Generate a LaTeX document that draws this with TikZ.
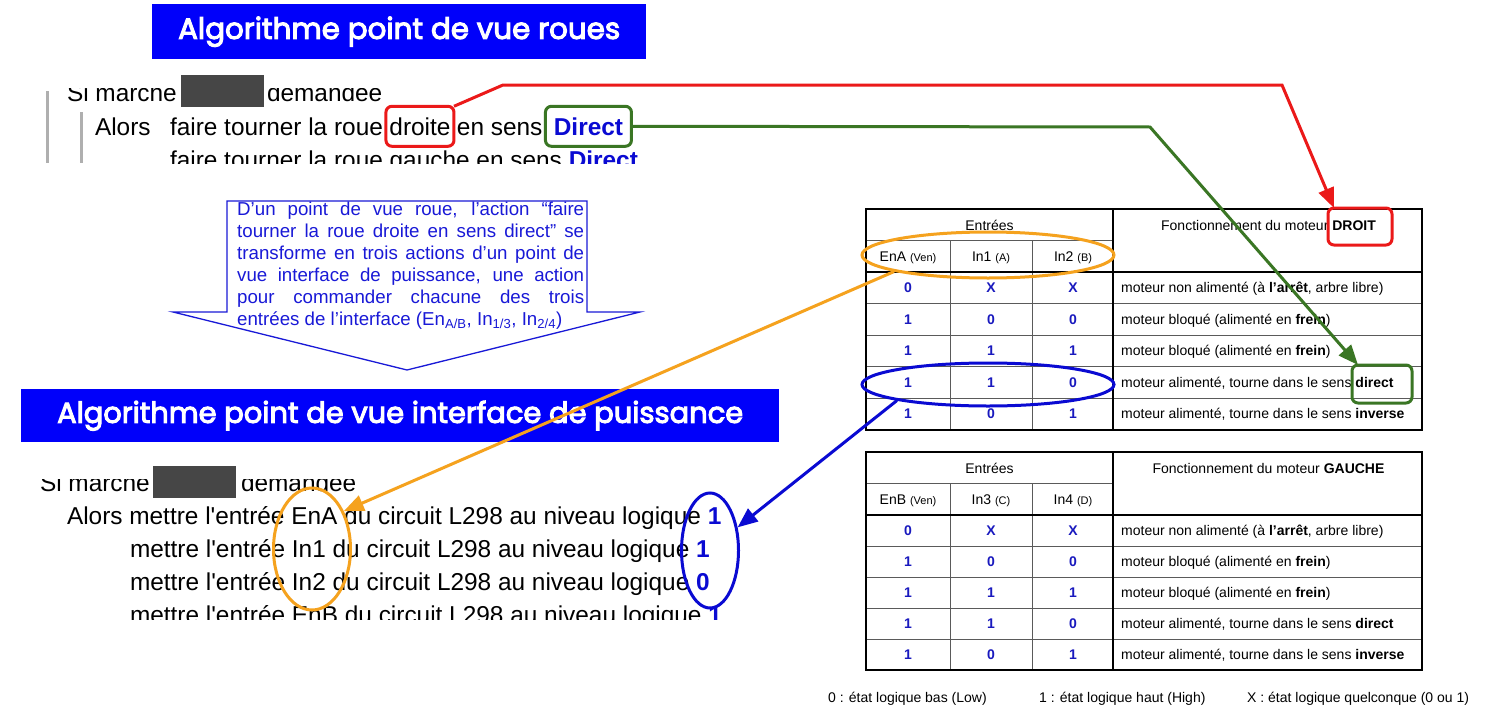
\documentclass[tikz,border=0pt]{standalone}
\usepackage{fontspec}
\usepackage{graphicx}
\newfontfamily\arial{Liberation Sans}
\newfontfamily\titlefont{Poppins}[FakeBold=3.5]
\usetikzlibrary{arrows.meta,shapes.geometric}
\definecolor{tblue}{RGB}{0,0,250}
\definecolor{nblue}{RGB}{25,25,190}
\definecolor{cblue}{RGB}{25,25,215}
\definecolor{cred}{RGB}{235,25,25}
\definecolor{cgreen}{RGB}{58,118,36}
\definecolor{corange}{RGB}{245,162,30}
\definecolor{vblue}{RGB}{10,10,210}
\definecolor{darkbox}{RGB}{70,70,70}
\definecolor{barcol}{RGB}{175,175,175}
\definecolor{gridcol}{RGB}{90,90,90}
\tikzset{
  txt/.style={font=\arial\fontsize{24.4}{28}\selectfont, inner sep=0pt, outer sep=0pt, anchor=base west},
  ttl/.style={fill=tblue, inner sep=0pt, text=white, anchor=north west},
  hlbox/.style={rounded corners=6pt, line width=3pt, inner xsep=3.5pt, inner ysep=0pt, minimum height=40pt, outer sep=0pt, anchor=base west},
  tb/.style={font=\arial\fontsize{14}{16}\selectfont, inner sep=0pt, anchor=base},
  num/.style={font=\arial\bfseries\fontsize{14}{16}\selectfont, text=nblue, inner sep=0pt, anchor=base},
  tframe/.style={line width=2pt, black},
  tthin/.style={line width=1pt, gridcol},
  conn/.style={line width=3pt, -{Triangle[length=20pt,width=16pt]}},
  oval/.style={ellipse, draw, line width=3pt, inner sep=0pt},
}
\newcommand\smallp[1]{{\fontsize{11}{13}\selectfont #1}}
\newcommand\mytable[7]{%
  \pgfmathsetmacro\myhA{#2+31}%
  \pgfmathsetmacro\myhB{#2+63}%
  \pgfmathsetmacro\myrh{(#3-\myhB)/5}%
  \foreach \k in {1,...,4}{\draw[tthin] (866,{\myhB+\k*\myrh}) -- (1422,{\myhB+\k*\myrh});}
  \draw[tthin] (866,\myhA) -- (1113,\myhA);
  \draw[tthin] (950,\myhA) -- (950,#3);
  \draw[tthin] (1032,\myhA) -- (1032,#3);
  \draw[tframe] (1113,#2) -- (1113,#3);
  \draw[tframe] (866,\myhB) -- (1422,\myhB);
  \draw[tframe] (866,#2) rectangle (1422,#3);
  \node[tb] (#1ent) at (989.5,{#2+21}) {Entrées};
  \node[tb] (#1fon) at (1268.5,{#2+21}) {#7};
  \node[tb] (#1s1) at (908,{(\myhA+\myhB)/2+5}) {#4};
  \node[tb] (#1s2) at (991,{(\myhA+\myhB)/2+5}) {#5};
  \node[tb] (#1s3) at (1073,{(\myhA+\myhB)/2+5}) {#6};
  \foreach \va/\vb/\vc/\vd [count=\i] in {0/X/X/{moteur non alimenté (à \textbf{l’arrêt}, arbre libre)},
      1/0/0/{moteur bloqué (alimenté en \textbf{frein})},
      1/1/1/{moteur bloqué (alimenté en \textbf{frein})},
      1/1/0/{moteur alimenté, tourne dans le sens \textbf{direct}},
      1/0/1/{moteur alimenté, tourne dans le sens \textbf{inverse}}}{
    \pgfmathsetmacro\yb{\myhB+(\i-0.5)*\myrh+5}
    \node[num] (#1r\i a) at (908,\yb) {\va};
    \node[num] (#1r\i b) at (991,\yb) {\vb};
    \node[num] (#1r\i c) at (1073,\yb) {\vc};
    \node[tb, anchor=base west] (#1r\i d) at (1121,\yb) {\vd};
  }
}
\begin{document}
\begin{tikzpicture}[x=1pt,y=-1pt]
\useasboundingbox (0,0) rectangle (1508,720);
\fill[white] (0,0) rectangle (1508,720);

% titles
\node[ttl, minimum width=494pt, minimum height=55pt] (title1) at (152,4) {\resizebox{442pt}{!}{\titlefont Algorithme point de vue roues}};
\node[ttl, minimum width=758pt, minimum height=53pt] (title2) at (21,389) {\resizebox{686pt}{!}{\titlefont Algorithme point de vue interface de puissance}};

% upper algorithm
\draw[barcol, line width=3pt] (47,91) -- (47,163);
\draw[barcol, line width=3pt] (81,112) -- (81,163);
\begin{scope}
\clip (0,88) rectangle (720,163);
\node[txt] (si1) at (67,101) {Si marche};
\node[txt] (dem1) at (267,101) {demandee};
\node[txt] (l3) at (170,168) {faire tourner la roue gauche en sens \textcolor{vblue}{\textbf{Direct}}};
\end{scope}
\fill[darkbox] (181,75) rectangle (264,107);
\node[txt] (alors1) at (95,135) {Alors};
\node[txt] (l2a) at (170,135) {faire tourner la roue};
\node[txt, hlbox, draw=cred, xshift=3pt] (droite) at (l2a.base east) {droite};
\node[txt, xshift=3pt] (l2b) at (droite.base east) {en sens};
\node[txt, hlbox, draw=cgreen, inner xsep=6pt, minimum width=86pt, xshift=3pt] (Direct) at (l2b.base east) {\textcolor{vblue}{\textbf{Direct}}};

% callout arrow
\draw[cblue, line width=1.3pt, fill=white, line join=miter] (227,201) -- (587,201) -- (587,312) -- (640,312) -- (407,370) -- (173,312) -- (227,312) -- cycle;
\node[anchor=north west, inner sep=0pt, text width=347pt, align=justify, text=cblue,
      font=\arial\fontsize{18.7}{22}\selectfont] (ctext) at (237,201.5)
 {\hyphenpenalty=10000 D’un point de vue roue, l’action “faire\linebreak
  tourner la roue droite en sens direct” se\linebreak
  transforme en trois actions d’un point de\linebreak
  vue interface de puissance, une action\linebreak
  pour commander chacune des trois\linebreak
  entrées de l’interface (En\textsubscript{A/B}, In\textsubscript{1/3}, In\textsubscript{2/4})};

% lower algorithm
\begin{scope}
\clip (0,479) rectangle (780,619);
\node[txt] (si2) at (40,491) {Si marche};
\node[txt] (dem2) at (241,491) {demandee};
\node[txt] (m4) at (130,623) {mettre l'entrée EnB du circuit L298 au niveau logique \textcolor{vblue}{\textbf{1}}};
\end{scope}
\fill[darkbox] (153,466) rectangle (236,498);
\node[txt] (m1) at (67,524) {Alors mettre l'entrée EnA du circuit L298 au niveau logique \textcolor{vblue}{\textbf{1}}};
\node[txt] (m2) at (130,557) {mettre l'entrée In1 du circuit L298 au niveau logique \textcolor{vblue}{\textbf{1}}};
\node[txt] (m3) at (130,590) {mettre l'entrée In2 du circuit L298 au niveau logique \textcolor{vblue}{\textbf{0}}};

% tables
\mytable{ta}{209}{429.5}{EnA \smallp{(Ven)}}{In1 \smallp{(A)}}{In2 \smallp{(B)}}{Fonctionnement du moteur \textbf{DROIT}}
\mytable{tb}{452}{670}{EnB \smallp{(Ven)}}{In3 \smallp{(C)}}{In4 \smallp{(D)}}{Fonctionnement du moteur \textbf{GAUCHE}}

% legend
\node[tb, anchor=base west] (leg0) at (828,702) {0 : état logique bas (Low)};
\node[tb, anchor=base west] (leg1) at (1039,702) {1 : état logique haut (High)};
\node[tb, anchor=base west] (legX) at (1247,702) {X : état logique quelconque (0 ou 1)};

% highlight boxes in table
\node[draw=cred, rounded corners=6pt, line width=3pt, minimum width=64pt, minimum height=37pt, inner sep=0pt, outer sep=0pt] (DROITbox) at (1360,226.5) {};
\node[draw=cgreen, rounded corners=6pt, line width=3pt, minimum width=60pt, minimum height=38pt, inner sep=0pt, outer sep=0pt] (directbox) at (1382,384) {};

% ellipses
\node[oval, draw=corange, minimum width=252pt, minimum height=46pt] (ovA) at (988,255) {};
\node[oval, draw=vblue, minimum width=252pt, minimum height=43pt] (ovB) at (988,384.5) {};
\node[oval, draw=corange, minimum width=77pt, minimum height=122pt] (ovC) at (312,549) {};
\node[oval, draw=vblue, minimum width=57pt, minimum height=115pt] (ovD) at (710,550.5) {};

% connectors
\coordinate (r1) at (503,85);
\coordinate (r2) at (1282,85);
\coordinate (g1) at (1150,127);
\draw[conn, cred] (droite.north east) -- (r1) -- (r2) -- ([xshift=6pt]DROITbox.north west);
\draw[conn, cgreen] (Direct.east) -- (g1) -- ([xshift=6pt]directbox.north west);
\draw[conn, corange] (ovA.190) -- (ovC.50);
\draw[conn, vblue] (ovB.190) -- (ovD.40);
\end{tikzpicture}
\end{document}
